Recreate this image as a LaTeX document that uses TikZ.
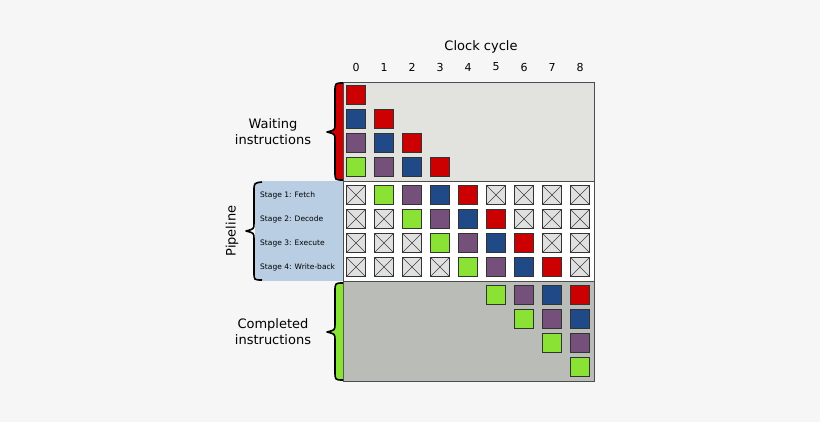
\documentclass[tikz,border=0pt]{standalone}
\usepackage{fontspec}
\setmainfont{DejaVu Sans}
\begin{document}
\definecolor{bg}{HTML}{F6F6F6}
\definecolor{wait}{HTML}{E2E3DF}
\definecolor{done}{HTML}{BABCB7}
\definecolor{pipe}{HTML}{B9CDE3}
\definecolor{R}{HTML}{CC0000}
\definecolor{B}{HTML}{204A87}
\definecolor{P}{HTML}{75507B}
\definecolor{G}{HTML}{8AE234}
\definecolor{X}{HTML}{E0E0E0}
\begin{tikzpicture}[x=1pt,y=-1pt,
  sq/.style={draw=black!80,line width=0.7pt,minimum size=19pt,inner sep=0pt},
  xx/.style={sq,fill=X,path picture={\draw[black!75,line width=0.5pt] (path picture bounding box.north west)--(path picture bounding box.south east) (path picture bounding box.north east)--(path picture bounding box.south west);}},
  lab/.style={font=\fontsize{13}{16}\selectfont,align=center},
  stage/.style={font=\fontsize{7.5}{9}\selectfont,anchor=west,inner sep=0pt},
  brace/.style={line width=1.6pt,line join=round}]
\fill[bg] (0,0) rectangle (820,422);
\useasboundingbox (0,0) rectangle (820,422);
% regions
\fill[pipe] (255,181) rectangle (343,281);
\draw[black!70,fill=wait] (343,82) rectangle (594,181);
\draw[black!70,fill=white] (343,181) rectangle (594,281);
\draw[black!70,fill=done] (343,281) rectangle (594,381);
% headings
\node[lab] (clk) at (481,47) {Clock cycle};
\foreach \i in {0,...,8}{\node[font=\fontsize{11}{13}\selectfont] (h\i) at (356+28*\i,67) {\i};}
% braces
\fill[R] (343,83) .. controls (335,83) .. (335,92) -- (335,124) .. controls (335,130) .. (327,132) .. controls (335,134) .. (335,140) -- (335,172) .. controls (335,180) .. (343,180) -- cycle;
\draw[brace] (343,83) .. controls (335,83) .. (335,92) -- (335,124) .. controls (335,130) .. (327,132) .. controls (335,134) .. (335,140) -- (335,172) .. controls (335,180) .. (343,180);
\fill[G] (343,283) .. controls (335,283) .. (335,292) -- (335,324) .. controls (335,330) .. (327,332) .. controls (335,334) .. (335,340) -- (335,371) .. controls (335,380) .. (343,380) -- cycle;
\draw[brace] (343,283) .. controls (335,283) .. (335,292) -- (335,324) .. controls (335,330) .. (327,332) .. controls (335,334) .. (335,340) -- (335,371) .. controls (335,380) .. (343,380);
\fill[bg] (250,181) -- (262,181) .. controls (254,182) .. (254,190) -- (254,223) .. controls (254,229) .. (246,231) .. controls (254,233) .. (254,239) -- (254,272) .. controls (254,280) .. (262,281) -- (250,281) -- cycle;
\draw[brace] (262,182) .. controls (254,183) .. (254,191) -- (254,223) .. controls (254,229) .. (246,231) .. controls (254,233) .. (254,239) -- (254,272) .. controls (254,280) .. (262,280);
\node[lab] (wl) at (273,132) {Waiting\\instructions};
\node[lab] (cl) at (273,332) {Completed\\instructions};
\node[lab,rotate=90] (pl) at (232,231) {Pipeline};
\node[stage] (s1) at (260,195) {Stage 1: Fetch};
\node[stage] (s2) at (260,219) {Stage 2: Decode};
\node[stage] (s3) at (260,243) {Stage 3: Execute};
\node[stage] (s4) at (260,267) {Stage 4: Write-back};
% waiting
\node[sq,fill=R] (w00) at (356,95) {};
\node[sq,fill=B] (w10) at (356,119) {};
\node[sq,fill=R] (w11) at (384,119) {};
\node[sq,fill=P] (w20) at (356,143) {};
\node[sq,fill=B] (w21) at (384,143) {};
\node[sq,fill=R] (w22) at (412,143) {};
\node[sq,fill=G] (w30) at (356,167) {};
\node[sq,fill=P] (w31) at (384,167) {};
\node[sq,fill=B] (w32) at (412,167) {};
\node[sq,fill=R] (w33) at (440,167) {};
% pipeline
\foreach \r in {0,...,3}{
  \foreach \c in {0,...,8}{
    \pgfmathtruncatemacro{\k}{\c-\r}
    \ifcase\k\relax
    \or \node[sq,fill=G] (p\r\c) at (356+28*\c,195+24*\r) {};
    \or \node[sq,fill=P] (p\r\c) at (356+28*\c,195+24*\r) {};
    \or \node[sq,fill=B] (p\r\c) at (356+28*\c,195+24*\r) {};
    \or \node[sq,fill=R] (p\r\c) at (356+28*\c,195+24*\r) {};
    \fi
    \ifnum\k<1 \node[xx] (p\r\c) at (356+28*\c,195+24*\r) {};\fi
    \ifnum\k>4 \node[xx] (p\r\c) at (356+28*\c,195+24*\r) {};\fi
  }}
% completed
\node[sq,fill=G] (c05) at (496,295) {};
\node[sq,fill=P] (c06) at (524,295) {};
\node[sq,fill=B] (c07) at (552,295) {};
\node[sq,fill=R] (c08) at (580,295) {};
\node[sq,fill=G] (c16) at (524,319) {};
\node[sq,fill=P] (c17) at (552,319) {};
\node[sq,fill=B] (c18) at (580,319) {};
\node[sq,fill=G] (c27) at (552,343) {};
\node[sq,fill=P] (c28) at (580,343) {};
\node[sq,fill=G] (c38) at (580,367) {};
\end{tikzpicture}
\end{document}
